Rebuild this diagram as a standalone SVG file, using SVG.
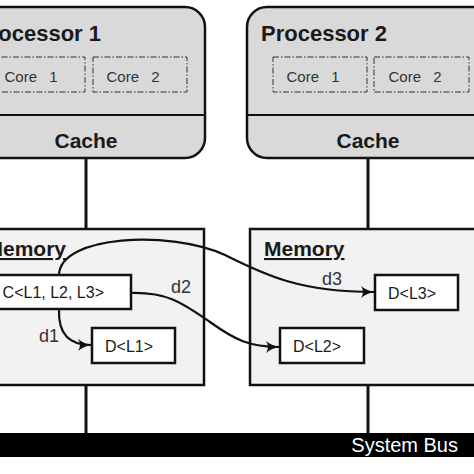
<svg xmlns="http://www.w3.org/2000/svg" width="474" height="474" viewBox="0 0 474 474">
<defs>
<marker id="arr" viewBox="0 0 14 12" refX="13" refY="6" markerWidth="14" markerHeight="12" markerUnits="userSpaceOnUse" orient="auto">
<path d="M0,0 Q6,5 14,6 Q6,7 0,12 Q4,6 0,0 z" fill="#111"/>
</marker>
<style>
.proc{fill:#d9d9d9;stroke:#111;stroke-width:2.5}
.mem{fill:#f2f2f2;stroke:#111;stroke-width:2.5}
.box{fill:#fff;stroke:#111;stroke-width:2.5}
.core{fill:none;stroke:#333;stroke-width:1;stroke-dasharray:6 2 1.5 2}
.wire{stroke:#111;stroke-width:3;fill:none}
.conn{stroke:#111;stroke-width:2.2;fill:none;marker-end:url(#arr)}
.b{font-family:"Liberation Sans",Arial,sans-serif;font-weight:bold;font-size:21px;fill:#1a1a1a}
.pt{font-size:22px}
.t{font-family:"Liberation Sans",Arial,sans-serif;font-size:16px;fill:#1a1a1a}
.c{font-family:"Liberation Sans",Arial,sans-serif;font-size:15px;fill:#333;word-spacing:8px}
.l{font-family:"Liberation Sans",Arial,sans-serif;font-size:18px;fill:#333}
</style>
</defs>
<g id="connectors">
<line class="wire" x1="86" y1="158" x2="86" y2="229"/>
<line class="wire" x1="368" y1="158" x2="368" y2="229"/>
<line class="wire" x1="86" y1="385" x2="86" y2="434"/>
<line class="wire" x1="368" y1="385" x2="368" y2="434"/>
</g>
<g id="processor1">
<rect class="proc" x="-30" y="7" width="235" height="151" rx="20"/>
<line x1="-30" y1="115" x2="205" y2="115" stroke="#111" stroke-width="2"/>
<text class="b pt" x="101" y="41" text-anchor="end">Processor 1</text>
<rect class="core" x="-10" y="57" width="95" height="35"/>
<rect class="core" x="93" y="57" width="94" height="35"/>
<text class="c" x="31" y="82" text-anchor="middle">Core 1</text>
<text class="c" x="133" y="82" text-anchor="middle">Core 2</text>
<text class="b" x="86" y="148" text-anchor="middle">Cache</text>
</g>
<g id="processor2">
<rect class="proc" x="247" y="7" width="260" height="151" rx="20"/>
<line x1="247" y1="115" x2="507" y2="115" stroke="#111" stroke-width="2"/>
<text class="b pt" x="261" y="41">Processor 2</text>
<rect class="core" x="273" y="57" width="94" height="35"/>
<rect class="core" x="374" y="57" width="95" height="35"/>
<text class="c" x="313" y="82" text-anchor="middle">Core 1</text>
<text class="c" x="415" y="82" text-anchor="middle">Core 2</text>
<text class="b" x="368" y="148" text-anchor="middle">Cache</text>
</g>
<g id="memory1">
<rect class="mem" x="-30" y="229" width="234" height="156"/>
<text class="b" x="66" y="256" text-anchor="end" text-decoration="underline">Memory</text>
</g>
<g id="memory2">
<rect class="mem" x="250" y="229" width="260" height="156"/>
<text class="b" x="264" y="256" text-decoration="underline">Memory</text>
</g>
<g id="c-l1l2l3">
<rect class="box" x="-20" y="275" width="151" height="34"/>
<text class="t" x="104" y="298" text-anchor="end">C&lt;L1, L2, L3&gt;</text>
</g>
<g id="d-l1">
<rect class="box" x="92" y="328" width="83" height="35"/>
<text class="t" x="105" y="352">D&lt;L1&gt;</text>
</g>
<g id="d-l3">
<rect class="box" x="375" y="275" width="83" height="35"/>
<text class="t" x="388" y="299">D&lt;L3&gt;</text>
</g>
<g id="d-l2">
<rect class="box" x="280" y="328" width="84" height="35"/>
<text class="t" x="293" y="352">D&lt;L2&gt;</text>
</g>
<g id="arrows">
<path class="conn" d="M59 309 C58 335 70 345 91 345"/>
<path class="conn" d="M59 275 C60 235 170 230 225 255 C265 275 300 292 374 292"/>
<path class="conn" d="M131 293 C170 292 185 305 210 322 C235 340 250 347 279 347"/>
<text class="l" x="39" y="342">d1</text>
<text class="l" x="171" y="293">d2</text>
<text class="l" x="322" y="285">d3</text>
</g>
<g id="system-bus">
<rect x="0" y="433" width="474" height="24" fill="#000"/>
<text x="458" y="452" text-anchor="end" font-family="'Liberation Sans',Arial,sans-serif" font-size="20" fill="#fff">System Bus</text>
</g>
</svg>
